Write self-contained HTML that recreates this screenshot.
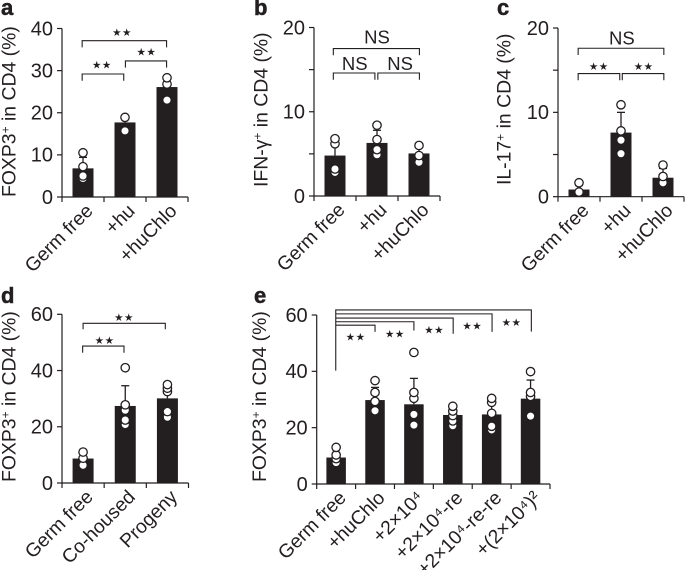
<!DOCTYPE html>
<html lang="en">
<head>
<meta charset="utf-8">
<title>FOXP3, IFN-γ and IL-17 in CD4 panels</title>
<style>
html,body{margin:0;padding:0;background:#fff;}
svg{display:block;}
text{font-family:"Liberation Sans",Arial,sans-serif;fill:#231f20;}
.tick-text{font-size:20px;}
.cat-text{font-size:19.3px;}
.title-text{font-size:19.4px;}
.letter{font-size:22px;font-weight:bold;stroke:#231f20;stroke-width:0.5px;}
.sup{font-size:12px;}
.ns{font-size:18.5px;}
.star{font-size:10.5px;font-family:"DejaVu Sans",sans-serif;letter-spacing:0.5px;}
</style>
</head>
<body>
<svg id="figure" width="685" height="570" viewBox="0 0 685 570" xmlns="http://www.w3.org/2000/svg">
  <rect width="685" height="570" fill="#ffffff"/>
  <text class="letter" x="1" y="15">a</text>
  <text class="letter" x="254" y="15">b</text>
  <text class="letter" x="497" y="15">c</text>
  <text class="letter" x="1" y="303">d</text>
  <text class="letter" x="254" y="303">e</text>
  <text class="title-text" transform="translate(15.5 197) rotate(-90)">FOXP3<tspan class="sup" dy="-6">+</tspan><tspan dy="6"> in CD4 (%)</tspan></text>
  <text class="title-text" transform="translate(267.5 187) rotate(-90)">IFN-γ<tspan class="sup" dy="-6">+</tspan><tspan dy="6"> in CD4 (%)</tspan></text>
  <text class="title-text" transform="translate(510.5 185) rotate(-90)">IL-17<tspan class="sup" dy="-6">+</tspan><tspan dy="6"> in CD4 (%)</tspan></text>
  <text class="title-text" transform="translate(15.5 482) rotate(-90)">FOXP3<tspan class="sup" dy="-6">+</tspan><tspan dy="6"> in CD4 (%)</tspan></text>
  <text class="title-text" transform="translate(266 482) rotate(-90)">FOXP3<tspan class="sup" dy="-6">+</tspan><tspan dy="6"> in CD4 (%)</tspan></text>
</svg>
<script>
var aCategories = ["Germ free", "+hu", "+huChlo"];
var aMeans = [6.8, 17.7, 26.1];
var aErrors = [2.6, 1.6, 2.6];
var aPoints = [[4.4, 5, 7.2, 10.5], [15.7, 18.9], [23, 26.8, 28.3]];
var aTicks = [0, 10, 20, 30, 40];
var aMinorTicks = [];
var aBrackets = [
  [-0.02, 0.97, 29.2, 6.7, 6.7, 0.45, 31.5, "★★"],
  [1.01, 1.99, 32.3, 6.7, 6.7, 1.51, 34.5, "★★"],
  [-0.02, 1.99, 37.1, 6.7, 6.7, 0.93, 39.2, "★★"]
];

var bCategories = ["Germ free", "+hu", "+huChlo"];
var bMeans = [4.8, 6.3, 5.05];
var bErrors = [2, 1.5, 0.9];
var bPoints = [[2.8, 3.2, 6.2, 6.8], [4.9, 5.5, 6.7, 8.4], [4, 4.8, 6]];
var bTicks = [0, 10, 20];
var bMinorTicks = [5, 15];
var bBrackets = [
  [-0.04, 0.95, 14.6, 6.7, 6.7, 0.47, 15.7, "NS"],
  [1.02, 2.01, 14.6, 6.7, 6.7, 1.55, 15.7, "NS"],
  [-0.04, 2.01, 17.5, 6.7, 6.7, 1, 18.9, "NS"]
];

var cCategories = ["Germ free", "+hu", "+huChlo"];
var cMeans = [0.85, 7.6, 2.25];
var cErrors = [0.5, 2.4, 1.1];
var cPoints = [[0.55, 1.65], [5.1, 6.7, 7.8, 10.9], [1.65, 2.4, 3.75]];
var cTicks = [0, 10, 20];
var cMinorTicks = [5, 15];
var cBrackets = [
  [-0.02, 0.97, 14.6, 6.7, 6.7, 0.47, 15.5, "★★"],
  [1.03, 2.02, 14.6, 6.7, 6.7, 1.54, 15.5, "★★"],
  [-0.02, 2.02, 17.6, 6.7, 6.7, 1.02, 18.8, "NS"]
];

var dCategories = ["Germ free", "Co-housed", "Progeny"];
var dMeans = [8.7, 27.4, 30.1];
var dErrors = [2, 7.2, 4.5];
var dPoints = [[6.3, 8.8, 11], [20.8, 22.4, 25.9, 27.8, 41], [23.4, 25.4, 32.5, 33.7, 35]];
var dTicks = [0, 20, 40, 60];
var dMinorTicks = [];
var dBrackets = [
  [-0.01, 0.97, 48.7, 6.7, 6.7, 0.51, 50.9, "★★"],
  [0, 1.95, 56.8, 6, 6, 0.97, 59.1, "★★"]
];

var eCategories = ["Germ free", "+huChlo", "+2×10⁴", "+2×10⁴-re", "+2×10⁴-re-re", "+(2×10⁴)²"];
var eMeans = [9.4, 29.8, 28.3, 24.5, 24.7, 30.3];
var eErrors = [1.5, 4.5, 9.2, 2.5, 4, 6.6];
var ePoints = [
  [7.6, 9, 10.3, 13],
  [26, 29.3, 32.5, 36.7],
  [20.9, 24.7, 30.4, 32.5, 46.7],
  [20.7, 22.4, 24.3, 25.9, 27.6],
  [19.2, 20.5, 25.1, 29, 30.4],
  [24.1, 31.1, 32.5, 39.9]
];
var eTicks = [0, 20, 40, 60];
var eMinorTicks = [];
var eBrackets = [
  [-0.01, 1, 56.4, 0, 6.7, 0.5, 52.3, "★★"],
  [-0.01, 2, 57.6, 0, 8.7, 1.51, 53.5, "★★"],
  [-0.01, 3.01, 58.9, 0, 15.7, 2.52, 54.9, "★★"],
  [-0.01, 4.01, 60.4, 0, 18, 3.5, 56.2, "★★"],
  [-0.01, 5.02, 61.8, 60.7, 21.7, 4.51, 57.6, "★★"]
];

var INK = "#231f20";
var svg = document.getElementById("figure");
var NS = "http://www.w3.org/2000/svg";

function make(parent, tag, attrs) {
  var el = document.createElementNS(NS, tag);
  for (var k in attrs) { el.setAttribute(k, attrs[k]); }
  parent.appendChild(el);
  return el;
}

function seg(parent, x1, y1, x2, y2, name, width) {
  var el = make(parent, "line", {x1: x1, y1: y1, x2: x2, y2: y2, stroke: INK, "stroke-width": width || 1.2});
  
  
  return el;
}

function drawPanel(id, box, categories, means, errors, points, ticks, minorTicks, brackets, barWidth) {
  var group = make(svg, "g", {});
  
  

  var maxTick = ticks[ticks.length - 1];
  var band = (box.right - box.left) / categories.length;
  function xCat(i) { return box.left + (i + 0.5) * band; }
  function yVal(v) { return box.bottom - (v / maxTick) * (box.bottom - box.top); }

  categories.forEach(function (cat, i) {
    var bx = xCat(i);
    seg(group, bx, yVal(means[i]), bx, yVal(means[i] + errors[i]), 'error-bar-' + id + '-' + i, 1.3);
    seg(group, bx - 4, yVal(means[i] + errors[i]), bx + 4, yVal(means[i] + errors[i]), 'error-cap-' + id + '-' + i, 1.3);
    var bar = make(group, "rect", {
      x: bx - barWidth / 2,
      y: yVal(means[i]),
      width: barWidth,
      height: box.bottom - yVal(means[i]),
      fill: INK
    });
    
    
    points[i].forEach(function (p, j) {
      var dot = make(group, "circle", {cx: bx, cy: yVal(p), r: 4.2, fill: "#ffffff", stroke: INK, "stroke-width": 1.3});
      
      
    });
    var label = make(group, "text", {
      "class": "cat-text",
      "text-anchor": "end",
      transform: "translate(" + (bx + 11) + " " + (box.bottom + 15) + ") rotate(-45)"
    });
    label.textContent = cat;
    
    
  });

  seg(group, box.left, box.bottom, box.left, box.top, 'y-axis-' + id);
  seg(group, box.left, box.bottom, box.right, box.bottom, 'x-axis-' + id);
  for (var t = 0; t <= categories.length; t++) {
    seg(group, box.left + t * band, box.bottom, box.left + t * band, box.bottom + 5, 'x-tick-' + id + '-' + t);
  }
  ticks.forEach(function (v) {
    seg(group, box.left - 5, yVal(v), box.left, yVal(v), 'y-tick-' + id + '-' + v);
    var label = make(group, "text", {
      "class": "tick-text",
      "text-anchor": "end",
      x: box.left - 9,
      y: yVal(v) + 6.8
    });
    label.textContent = v;
    
    
  });
  minorTicks.forEach(function (v) {
    seg(group, box.left - 5, yVal(v), box.left, yVal(v), 'y-minor-tick-' + id + '-' + v);
  });

  brackets.forEach(function (b, n) {
    var x1 = xCat(b[0]), x2 = xCat(b[1]), yb = yVal(b[2]);
    var path = make(group, "path", {
      d: "M" + x1 + " " + (yb + Math.max(b[3], 0)) + "V" + yb + "H" + x2 + "V" + (yb + b[4]),
      fill: "none",
      stroke: INK,
      "stroke-width": 1.1
    });
    
    
    var isStar = b[7] !== "NS";
    var mark = make(group, "text", {
      "class": isStar ? "star" : "ns",
      "text-anchor": "middle",
      x: xCat(b[5]),
      y: yVal(b[6]) + (isStar ? 4 : 6.5)
    });
    mark.textContent = b[7];
    
    
  });
}

drawPanel("a", {left: 62, right: 188, bottom: 197, top: 28.5}, aCategories, aMeans, aErrors, aPoints, aTicks, aMinorTicks, aBrackets, 21);
drawPanel("b", {left: 314, right: 440, bottom: 196, top: 27.5}, bCategories, bMeans, bErrors, bPoints, bTicks, bMinorTicks, bBrackets, 21);
drawPanel("c", {left: 558, right: 684, bottom: 196.7, top: 28}, cCategories, cMeans, cErrors, cPoints, cTicks, cMinorTicks, cBrackets, 21);
drawPanel("d", {left: 62, right: 188.5, bottom: 483, top: 314.3}, dCategories, dMeans, dErrors, dPoints, dTicks, dMinorTicks, dBrackets, 21);
drawPanel("e", {left: 316.7, right: 550, bottom: 484, top: 315}, eCategories, eMeans, eErrors, ePoints, eTicks, eMinorTicks, eBrackets, 19.5);
</script>
</body>
</html>
